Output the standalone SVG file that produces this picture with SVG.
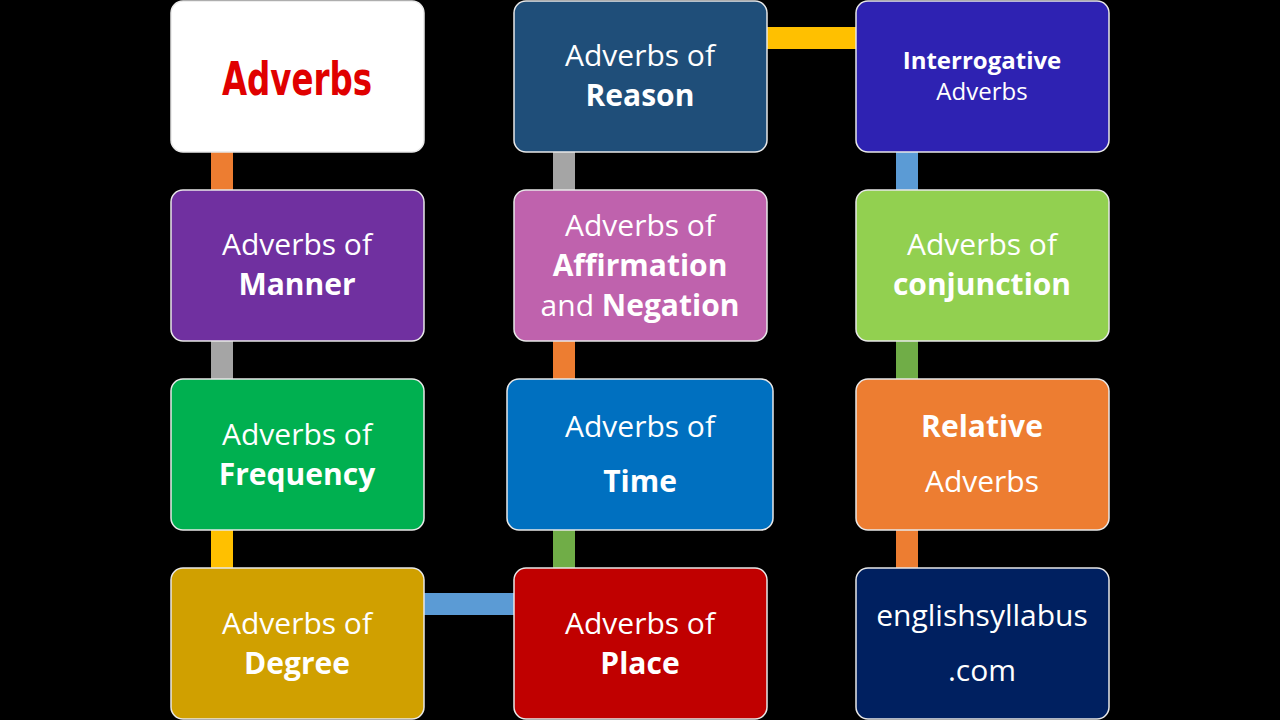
<svg xmlns="http://www.w3.org/2000/svg" width="1280" height="720" viewBox="0 0 1280 720">
<style>
.b{stroke:#e8e8e8;stroke-width:1.5}
text{font-family:"Open Sans","Liberation Sans",sans-serif;fill:#fff;text-anchor:middle;font-size:30px}
.k{font-weight:bold}
</style>
<rect width="1280" height="720" fill="#000"/>
<g id="connectors" stroke-width="22">
<line x1="222" y1="152" x2="222" y2="190" stroke="#ed7d31"/>
<line x1="222" y1="341" x2="222" y2="379" stroke="#a5a5a5"/>
<line x1="222" y1="530" x2="222" y2="568" stroke="#ffc000"/>
<line x1="564" y1="152" x2="564" y2="190" stroke="#a5a5a5"/>
<line x1="564" y1="341" x2="564" y2="379" stroke="#ed7d31"/>
<line x1="564" y1="530" x2="564" y2="568" stroke="#70ad47"/>
<line x1="907" y1="152" x2="907" y2="190" stroke="#5b9bd5"/>
<line x1="907" y1="341" x2="907" y2="379" stroke="#70ad47"/>
<line x1="907" y1="530" x2="907" y2="568" stroke="#ed7d31"/>
<line x1="767" y1="38" x2="856" y2="38" stroke="#ffc000"/>
<line x1="424" y1="604" x2="514" y2="604" stroke="#5b9bd5"/>
</g>
<g id="adverbs"><rect class="b" x="171" y="1" width="253" height="151" rx="12" fill="#fff"/>
<text x="297" y="95" class="k" style="fill:#e00000;font-size:46px;font-family:'DejaVu Sans Condensed','Liberation Sans',sans-serif" textLength="150" lengthAdjust="spacingAndGlyphs">Adverbs</text></g>
<g id="reason"><rect class="b" x="514" y="1" width="253" height="151" rx="12" fill="#1f4e79"/>
<text x="640" y="66">Adverbs of</text><text x="640" y="106" class="k">Reason</text></g>
<g id="interrogative"><rect class="b" x="856" y="1" width="253" height="151" rx="12" fill="#2e22b2"/>
<text x="982" y="69" class="k" style="font-size:24px">Interrogative</text><text x="982" y="100" style="font-size:24px">Adverbs</text></g>
<g id="manner"><rect class="b" x="171" y="190" width="253" height="151" rx="12" fill="#7030a0"/>
<text x="297" y="255">Adverbs of</text><text x="297" y="295" class="k">Manner</text></g>
<g id="affirmation"><rect class="b" x="514" y="190" width="253" height="151" rx="12" fill="#bf62ad"/>
<text x="640" y="236">Adverbs of</text><text x="640" y="276" class="k">Affirmation</text><text x="640" y="316">and <tspan class="k">Negation</tspan></text></g>
<g id="conjunction"><rect class="b" x="856" y="190" width="253" height="151" rx="12" fill="#92d050"/>
<text x="982" y="255">Adverbs of</text><text x="982" y="295" class="k">conjunction</text></g>
<g id="frequency"><rect class="b" x="171" y="379" width="253" height="151" rx="12" fill="#00b050"/>
<text x="297" y="445">Adverbs of</text><text x="297" y="485" class="k">Frequency</text></g>
<g id="time"><rect class="b" x="507" y="379" width="266" height="151" rx="12" fill="#0070c0"/>
<text x="640" y="437">Adverbs of</text><text x="640" y="492" class="k">Time</text></g>
<g id="relative"><rect class="b" x="856" y="379" width="253" height="151" rx="12" fill="#ed7d31"/>
<text x="982" y="437" class="k">Relative</text><text x="982" y="492">Adverbs</text></g>
<g id="degree"><rect class="b" x="171" y="568" width="253" height="151" rx="12" fill="#d0a000"/>
<text x="297" y="634">Adverbs of</text><text x="297" y="674" class="k">Degree</text></g>
<g id="place"><rect class="b" x="514" y="568" width="253" height="151" rx="12" fill="#c00000"/>
<text x="640" y="634">Adverbs of</text><text x="640" y="674" class="k">Place</text></g>
<g id="site"><rect class="b" x="856" y="568" width="253" height="151" rx="12" fill="#002060"/>
<text x="982" y="626">englishsyllabus</text><text x="982" y="681">.com</text></g>
</svg>
